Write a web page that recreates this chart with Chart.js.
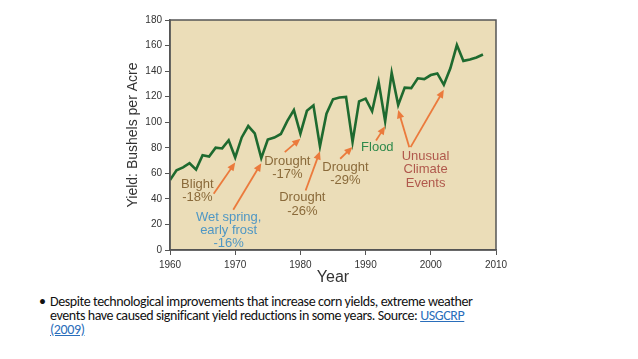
<!DOCTYPE html>
<html>
<head>
<meta charset="utf-8">
<script src="https://cdn.jsdelivr.net/npm/chart.js@4.4.1/dist/chart.umd.min.js"></script>
<style>
  html, body { margin: 0; padding: 0; background: #fff; }
  #wrap { position: absolute; left: 0; top: 0; width: 638px; height: 290px; }
  #note {
    position: absolute; left: 39px; top: 295px; width: 440px;
    font-family: 'Carlito', 'Lato', 'Open Sans', sans-serif;
    font-size: 14px; letter-spacing: -0.4px; line-height: 13.8px; color: #111;
  }
  #note .b { position: absolute; left: 0; top: 0; }
  #note .t { margin-left: 11px; }
  #note a { color: #2a6ebb; text-decoration: underline; }
</style>
</head>
<body>
<div id="wrap"><canvas id="c"></canvas></div>
<div id="note"><span class="b">•</span><div class="t">Despite technological improvements that increase corn yields, extreme weather events have caused significant yield reductions in some years. Source: <a href="#">USGCRP (2009)</a></div></div>
<script>
// corn yield, bushels per acre
const years = [1960,1961,1962,1963,1964,1965,1966,1967,1968,1969,
               1970,1971,1972,1973,1974,1975,1976,1977,1978,1979,
               1980,1981,1982,1983,1984,1985,1986,1987,1988,1989,
               1990,1991,1992,1993,1994,1995,1996,1997,1998,1999,
               2000,2001,2002,2003,2004,2005,2006,2007,2008];
const yields = [54.7,62.4,64.7,67.9,62.9,74.1,73.1,80.1,79.5,85.9,
                72.4,88.1,97.0,91.3,71.9,86.4,88.0,90.8,101.0,109.5,
                91.0,108.9,113.2,81.1,106.7,118.0,119.4,119.8,84.6,116.3,
                118.5,108.6,131.5,100.7,138.6,113.5,127.1,126.7,134.4,133.8,
                136.9,138.2,129.3,142.2,160.4,148.0,149.1,150.7,153.0];
const yTicks = [0,20,40,60,80,100,120,140,160,180];
const xTicks = [1960,1970,1980,1990,2000,2010];

// annotations: label anchor (year, value), arrow tails (year, value) and target years
const notes = [
  { lines: ['Blight', '-18%'], color: '#8a6a3a', at: [1964.2, 51.3], tails: [[1966.7, 44.1]], targets: [1970] },
  { lines: ['Wet spring,', 'early frost', '-16%'], color: '#4f97c4', at: [1969.0, 25.8], tails: [[1969.7, 31.5]], targets: [1974] },
  { lines: ['Drought', '-17%'], color: '#8a6a3a', at: [1978.0, 69.5], tails: [[1977.6, 76.6]], targets: [1980] },
  { lines: ['Drought', '-26%'], color: '#8a6a3a', at: [1980.3, 40.9], tails: [[1980.8, 46.6]], targets: [1983] },
  { lines: ['Drought', '-29%'], color: '#8a6a3a', at: [1986.9, 64.8], tails: [[1986.1, 71.4]], targets: [1988] },
  { lines: ['Flood'], color: '#2f8a4c', at: [1991.8, 80.5], tails: [[1991.6, 85.7]], targets: [1993] },
  { lines: ['Unusual', 'Climate', 'Events'], color: '#b0584c', at: [1999.2, 73.2], tails: [[1996.7, 80.5], [1996.9, 80.5]], targets: [1995, 2002] }
];

const frame = {
  id: 'frame',
  beforeDraw(chart) {
    const a = chart.chartArea, ctx = chart.ctx;
    ctx.save();
    ctx.fillStyle = '#ebddb8';
    ctx.fillRect(a.left, a.top, a.right - a.left, a.bottom - a.top);
    ctx.restore();
  },
  afterDraw(chart) {
    const a = chart.chartArea, ctx = chart.ctx;
    const xs = chart.scales.x, ys = chart.scales.y;
    ctx.save();
    ctx.strokeStyle = '#555';
    ctx.lineWidth = 1.5;
    ctx.strokeRect(a.left, a.top, a.right - a.left, a.bottom - a.top);

    ctx.font = '13px "Liberation Sans", Arial, sans-serif';
    ctx.textAlign = 'center';
    ctx.textBaseline = 'middle';
    notes.forEach(n => {
      const cx = xs.getPixelForValue(n.at[0]);
      const cy = ys.getPixelForValue(n.at[1]);
      ctx.fillStyle = n.color;
      n.lines.forEach((t, i) => ctx.fillText(t, cx, cy + i * 13.4));
      n.targets.forEach((yr, i) => {
        const tail = n.tails[i];
        const x0 = xs.getPixelForValue(tail[0]), y0 = ys.getPixelForValue(tail[1]);
        const x1 = xs.getPixelForValue(yr), y1 = ys.getPixelForValue(yields[years.indexOf(yr)]) + 5;
        const ang = Math.atan2(y1 - y0, x1 - x0);
        const h = 9;
        ctx.strokeStyle = '#eb7a3c';
        ctx.fillStyle = '#eb7a3c';
        ctx.lineWidth = 1.8;
        ctx.beginPath();
        ctx.moveTo(x0, y0);
        ctx.lineTo(x1 - Math.cos(ang) * h * 0.8, y1 - Math.sin(ang) * h * 0.8);
        ctx.stroke();
        ctx.beginPath();
        ctx.moveTo(x1, y1);
        ctx.lineTo(x1 - Math.cos(ang - 0.42) * h, y1 - Math.sin(ang - 0.42) * h);
        ctx.lineTo(x1 - Math.cos(ang + 0.42) * h, y1 - Math.sin(ang + 0.42) * h);
        ctx.closePath();
        ctx.fill();
      });
    });
    ctx.restore();
  }
};

const tickFont = { family: '"Liberation Sans", Arial, sans-serif', size: 10 };
const titleFont = { family: '"Liberation Sans", Arial, sans-serif', size: 14 };

new Chart(document.getElementById('c'), {
  type: 'line',
  data: {
    datasets: [{
      data: years.map((y, i) => ({ x: y, y: yields[i] })),
      borderColor: '#1e6a2f',
      borderWidth: 2.6,
      pointRadius: 0,
      tension: 0,
      fill: false
    }]
  },
  options: {
    responsive: true,
    maintainAspectRatio: false,
    animation: false,
    layout: { padding: { left: 120, right: 142, top: 20, bottom: 0 } },
    plugins: { legend: { display: false }, tooltip: { enabled: false } },
    scales: {
      x: {
        type: 'linear', min: 1960, max: 2010,
        afterBuildTicks: s => { s.ticks = xTicks.map(v => ({ value: v })); },
        afterFit: s => { s.height = 40; },
        ticks: { font: tickFont, color: '#333', padding: 4, callback: v => String(v), maxRotation: 0 },
        grid: { drawOnChartArea: false, tickLength: 5, color: '#555' },
        border: { color: '#555', width: 1.5 },
        title: { display: true, text: 'Year', font: { ...titleFont, size: 16 }, color: '#333', padding: { top: 0, bottom: 3 } }
      },
      y: {
        min: 0, max: 180,
        afterBuildTicks: s => { s.ticks = yTicks.map(v => ({ value: v })); },
        afterFit: s => { s.width = 50; },
        ticks: { font: tickFont, color: '#333', padding: 3 },
        grid: { drawOnChartArea: false, tickLength: 5, color: '#555' },
        border: { color: '#555', width: 1.5 },
        title: { display: true, text: 'Yield: Bushels per Acre', font: titleFont, color: '#333', padding: { top: 5, bottom: 0 } }
      }
    }
  },
  plugins: [frame]
});
</script>
</body>
</html>
